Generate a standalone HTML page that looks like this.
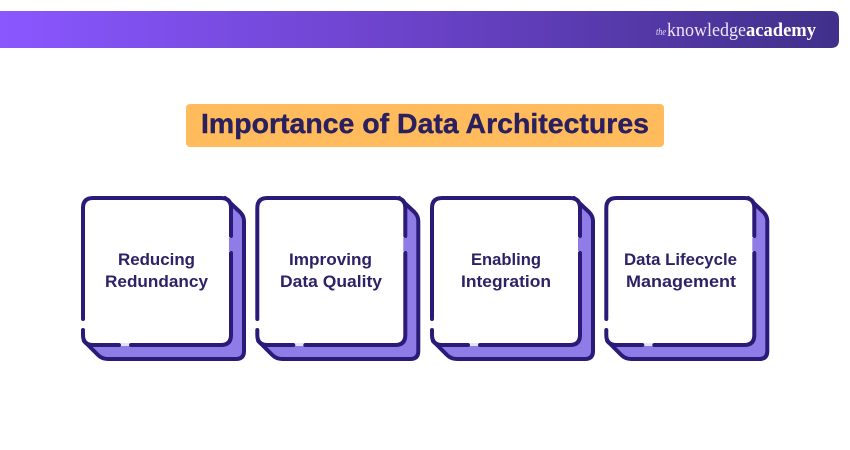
<!DOCTYPE html>
<html><head><meta charset="utf-8">
<style>
html,body{margin:0;padding:0;background:#fff}
svg{display:block}
.l{font:bold 16.5px "Liberation Sans",sans-serif;fill:#2d2266}
</style></head>
<body>
<svg width="850" height="450" viewBox="0 0 850 450" xmlns="http://www.w3.org/2000/svg">
<defs>
<linearGradient id="g" x1="0" x2="1" y1="0" y2="0">
<stop offset="0" stop-color="#8a57ff"/><stop offset="0.5" stop-color="#6a42c8"/><stop offset="1" stop-color="#40308a"/>
</linearGradient>
<g id="card">
<path d="M225 198 L240 212 Q244 216 244 221 L244 351 Q244 359 236 359 L108 359 Q102 359 98 355 L84 341 Z" fill="#8f7ce6"/>
<path d="M225 198 L240 212 Q244 216 244 221 L244 351 Q244 359 236 359 L108 359 Q102 359 98 355 L84 341" fill="none" stroke="#2b1b78" stroke-width="4" stroke-linejoin="round" stroke-linecap="round"/>
<rect x="83" y="198" width="148" height="147" rx="9" fill="#fff"/>
<rect x="229" y="238" width="4" height="13" fill="#8f7ce6"/>
<rect x="121" y="343" width="8" height="3" fill="#e6e2f8"/>
<path d="M83 330 V335 Q83 345 93 345 H119 M131 345 H221 Q231 345 231 335 V253 M231 236 V208 Q231 198 221 198 H93 Q83 198 83 208 V319" fill="none" stroke="#2b1b78" stroke-width="4" stroke-linecap="round"/>
</g>
</defs>
<path d="M0 11 H831 Q839 11 839 19 V40 Q839 48 831 48 H0 Z" fill="url(#g)"/>
<text x="656" y="35" font-family="Liberation Serif,serif" font-style="italic" font-size="11" fill="#e4dcf5" textLength="10" lengthAdjust="spacingAndGlyphs">the</text>
<text x="667" y="36" font-family="Liberation Serif,serif" font-size="19" fill="#ece6f8" textLength="79" lengthAdjust="spacingAndGlyphs">knowledge</text>
<text x="746" y="36" font-family="Liberation Serif,serif" font-weight="bold" font-size="19" fill="#fff" textLength="70" lengthAdjust="spacingAndGlyphs">academy</text>

<rect x="186" y="104" width="478" height="43" rx="4" fill="#ffbb5c"/>
<text x="201" y="133" font-family="Liberation Sans,sans-serif" font-weight="bold" font-size="28" fill="#2a1f5f" stroke="#2a1f5f" stroke-width="0.4" textLength="448" lengthAdjust="spacingAndGlyphs">Importance of Data Architectures</text>

<use href="#card"/>
<use href="#card" x="174.3"/>
<use href="#card" x="349"/>
<use href="#card" x="523.3"/>

<text class="l" x="118" y="265" textLength="77" lengthAdjust="spacingAndGlyphs">Reducing</text>
<text class="l" x="105" y="287" textLength="103" lengthAdjust="spacingAndGlyphs">Redundancy</text>
<text class="l" x="289" y="265" textLength="83" lengthAdjust="spacingAndGlyphs">Improving</text>
<text class="l" x="280" y="287" textLength="102" lengthAdjust="spacingAndGlyphs">Data Quality</text>
<text class="l" x="471" y="265" textLength="70" lengthAdjust="spacingAndGlyphs">Enabling</text>
<text class="l" x="461" y="287" textLength="90" lengthAdjust="spacingAndGlyphs">Integration</text>
<text class="l" x="624" y="265" textLength="113" lengthAdjust="spacingAndGlyphs">Data Lifecycle</text>
<text class="l" x="626" y="287" textLength="110" lengthAdjust="spacingAndGlyphs">Management</text>
</svg>
</body></html>
